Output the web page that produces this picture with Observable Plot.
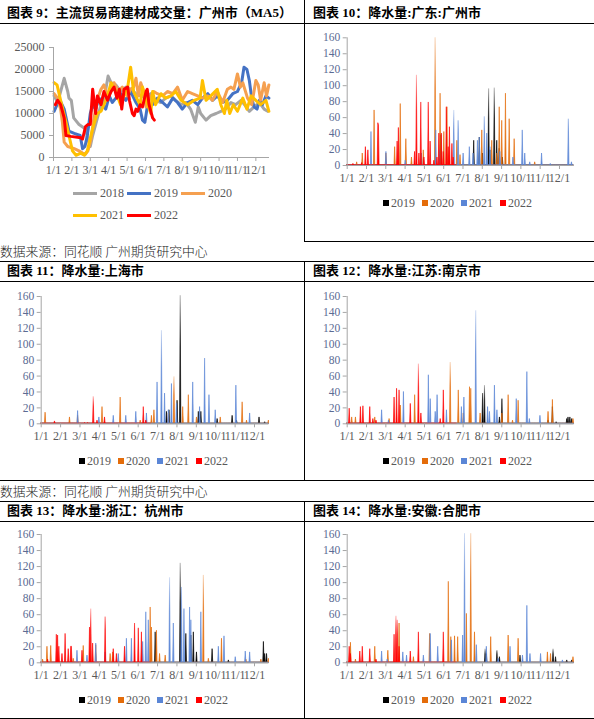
<!DOCTYPE html>
<html><head><meta charset="utf-8">
<script src="https://cdn.jsdelivr.net/npm/d3@7"></script>
<script src="https://cdn.jsdelivr.net/npm/@observablehq/plot@0.6"></script>
<style>
body{margin:0;background:#fff;}
#page{position:relative;width:594px;height:719px;overflow:hidden;background:#fff;}
.hl{position:absolute;height:1.4px;background:#000;}
.vl{position:absolute;width:1.4px;background:#000;}
.title{position:absolute;font-family:"Liberation Serif","Noto Sans CJK SC",serif;font-weight:700;font-size:13px;line-height:14px;white-space:nowrap;color:#000;}
.src{position:absolute;font-family:"Noto Sans CJK SC",sans-serif;font-weight:300;font-size:12.8px;line-height:14px;white-space:nowrap;color:#222;}
.panel{position:absolute;}
.leg{position:absolute;display:flex;align-items:center;font-family:"Liberation Serif",serif;font-size:12px;color:#595959;white-space:nowrap;}
.leg .it{display:flex;align-items:center;}
</style>
</head><body>
<svg width="0" height="0" style="position:absolute"><defs id="grads"></defs></svg>
<div id="page"></div>
<script>
// ---------- shared axis labels ----------
const monthLabels = ["1/1","2/1","3/1","4/1","5/1","6/1","7/1","8/1","9/1","10/1","11/1","12/1"];
const monthTickDays = [0,31,62,93,124,155,186,217,248,279,310,341];
const volTicks = [0,5000,10000,15000,20000,25000];
const rainTicks = [0,20,40,60,80,100,120,140,160];
const volYears = ["2018","2019","2020","2021","2022"];
const rainYears = ["2019","2020","2021","2022"];

// ---------- 图表9: 主流贸易商建材成交量 广州 (MA5) [dayIndex, volume] ----------
const vol2018 = [[1,14000],[7,12500],[18,18000],[24,15000],[26,13500],[30,13000],[34,9000],[43,7500],[54,6500],[58,4000],[62,2500],[66,5000],[74,9000],[80,12000],[85,13000],[92,18500],[97,17000],[105,16500],[113,15000],[122,16000],[130,15500],[139,14500],[147,14000],[156,13500],[164,14500],[172,13000],[181,12500],[189,13500],[198,14000],[206,13000],[215,12000],[223,12500],[231,11000],[239,8000],[244,11500],[248,10000],[257,8500],[265,9500],[274,10000],[282,10500],[290,11000],[299,12500],[307,12000],[316,13000],[322,12000],[330,10500],[338,11500],[347,12500],[355,11000],[361,10500]];
const vol2019 = [[1,10500],[6,12000],[11,13000],[18,11000],[26,6000],[35,5500],[45,5000],[49,2000],[53,2500],[57,5000],[62,10000],[66,12000],[71,11000],[77,13500],[83,12000],[88,11000],[94,14000],[99,12500],[105,13500],[113,14500],[122,13000],[130,15000],[139,12500],[146,11000],[150,8500],[154,8000],[158,11500],[167,12000],[175,13500],[184,12500],[192,11500],[201,13500],[209,12500],[217,11000],[226,12500],[234,13000],[243,12000],[251,13500],[260,14500],[268,13000],[276,14000],[285,12500],[293,13000],[302,14500],[310,15000],[317,17000],[321,20500],[326,20000],[330,17500],[334,13500],[338,11500],[343,11000],[347,13000],[352,12000],[358,14000],[363,13500]];
const vol2020 = [[1,14500],[7,13500],[12,11000],[15,8000],[18,3500],[24,2500],[35,2000],[43,1500],[49,1000],[54,800],[58,1500],[63,4000],[67,8000],[71,11000],[75,13500],[80,15500],[85,16500],[91,14000],[97,15000],[102,17000],[109,15000],[116,16000],[124,14000],[130,15500],[135,16000],[139,18000],[143,14000],[147,17000],[152,15000],[156,11500],[161,13000],[169,15000],[175,14500],[184,14000],[192,15000],[201,14500],[209,16000],[217,13000],[226,15000],[234,14500],[243,14000],[251,13500],[260,14000],[268,13000],[276,15000],[285,12500],[293,15500],[299,16000],[304,15500],[310,19000],[315,16000],[319,17000],[327,13500],[334,12000],[341,17500],[345,16500],[349,13000],[355,17000],[359,14000],[363,16500]];
const vol2021 = [[1,17000],[6,16500],[12,13000],[21,8000],[26,5000],[32,1500],[38,500],[46,1000],[52,500],[57,1500],[63,5000],[69,8000],[74,10000],[80,10500],[85,12000],[91,14000],[97,17000],[105,15000],[113,12000],[120,14500],[125,16000],[130,20500],[135,15000],[142,13000],[146,12000],[150,16000],[156,13000],[164,10000],[167,15000],[172,12000],[181,14500],[189,13500],[198,14000],[206,15000],[215,13000],[226,12000],[237,13000],[247,13500],[251,17500],[257,13000],[265,14000],[276,15500],[282,12000],[288,10000],[292,13000],[297,10000],[303,12000],[310,10500],[319,13500],[326,11000],[333,14000],[341,13000],[349,12000],[358,13000],[363,10500]];
const vol2022 = [[3,12000],[7,13000],[12,12000],[18,9000],[21,5000],[29,4800],[46,4500],[49,4200],[54,7000],[58,7500],[62,7500],[66,15500],[71,10000],[74,14000],[80,12000],[85,15000],[91,13000],[97,15000],[102,16000],[107,13500],[111,15500],[115,11000],[119,15500],[125,16000],[128,13000],[133,10000],[136,9500],[139,11000],[142,10500],[146,12000],[150,11500],[156,15000],[158,15500],[161,12000],[167,9000],[170,8500]];

// ---------- 降水量 [dayIndex, mm] ----------
// 广东:广州市
const gz2019 = [[151,38],[204,31],[213,35],[218,15],[228,96],[230,19],[237,97],[241,31],[245,21],[250,10]];
const gz2020 = [[16,4],[25,15],[44,69],[63,15],[77,23],[86,77],[95,33],[104,10],[123,19],[142,160],[150,90],[156,42],[161,73],[177,31],[182,13],[217,44],[233,31],[241,15],[245,73],[249,56],[255,90],[261,58],[269,33],[302,4]];
const gz2021 = [[39,42],[63,17],[94,6],[120,15],[143,44],[149,19],[172,69],[179,56],[187,15],[197,23],[203,15],[210,31],[213,35],[221,61],[225,40],[230,23],[246,17],[267,10],[282,44],[286,15],[294,4],[313,15],[327,2],[356,58],[361,4]];
const gz2022 = [[10,2],[24,3],[30,23],[34,19],[50,53],[51,50],[81,30],[83,47],[109,17],[112,113],[116,15],[119,79],[124,10],[131,79],[134,30],[140,6],[145,10],[148,40],[152,40],[155,17],[160,73],[163,23],[165,48],[169,27],[171,10]];
// 上海市
const sh2019 = [[201,15],[205,17],[218,29],[223,161],[252,15],[256,15],[282,6],[306,10],[313,4],[349,8],[358,2]];
const sh2020 = [[7,14],[46,8],[59,10],[98,21],[127,33],[159,4],[177,10],[181,17],[204,13],[213,59],[227,21],[236,36],[249,8],[287,8],[322,27],[329,4],[364,4]];
const sh2021 = [[59,16],[93,8],[116,10],[136,10],[152,15],[169,13],[186,52],[193,117],[198,38],[204,17],[209,50],[217,25],[243,52],[254,21],[262,82],[269,36],[279,17],[312,48],[334,13]];
const sh2022 = [[22,3],[70,1],[75,1],[84,34],[90,4],[102,8],[164,21],[168,4]];
// 江苏:南京市
const nj2019 = [[218,38],[221,48],[245,8],[249,31],[323,4],[330,21],[336,2],[353,6],[355,8],[358,8],[361,6]];
const nj2020 = [[8,8],[14,8],[45,8],[68,6],[86,23],[109,36],[166,77],[179,42],[187,13],[197,46],[199,44],[214,13],[249,13],[259,36],[266,4],[275,29],[323,15],[330,30],[363,6]];
const nj2021 = [[56,17],[67,4],[91,40],[131,61],[134,31],[142,15],[145,36],[160,17],[184,21],[188,33],[207,142],[226,21],[229,15],[237,48],[241,17],[272,31],[289,65],[293,6],[310,10]];
const nj2022 = [[4,19],[22,21],[26,22],[37,21],[42,6],[47,4],[76,33],[80,44],[84,42],[102,25],[115,75],[119,13],[150,6],[155,42]];
// 浙江:杭州市
const hz2019 = [[183,38],[223,124],[232,36],[240,34],[244,38],[249,13],[274,17],[300,3],[356,26],[358,11],[361,11]];
const hz2020 = [[3,4],[10,20],[16,21],[52,5],[68,21],[88,22],[111,11],[115,13],[175,69],[177,44],[185,40],[190,11],[199,9],[260,109],[268,5],[289,30],[328,4],[352,4],[364,5]];
const hz2021 = [[58,15],[74,9],[88,24],[103,13],[124,11],[137,30],[145,30],[163,26],[168,63],[172,53],[206,106],[212,49],[225,94],[229,67],[238,69],[240,53],[256,63],[284,20],[293,33],[311,7],[327,14],[334,13]];
const hz2022 = [[11,4],[25,35],[27,34],[29,20],[34,11],[39,36],[44,17],[48,20],[49,20],[66,15],[78,44],[80,67],[83,24],[103,57],[116,17],[121,11],[134,20],[150,49],[156,43],[161,38]];
// 安徽:合肥市
const hf2019 = [[222,17],[224,11],[241,15],[245,7],[278,9],[331,17],[335,7],[353,3],[361,3]];
const hf2020 = [[6,25],[14,4],[45,20],[66,15],[84,49],[107,7],[133,36],[163,101],[167,32],[173,33],[178,32],[192,61],[199,161],[205,38],[231,32],[259,34],[275,30],[322,13],[327,11],[363,7]];
const hf2021 = [[56,14],[65,4],[90,13],[96,9],[123,9],[134,36],[146,20],[168,28],[186,34],[189,161],[208,22],[224,20],[243,5],[262,20],[282,9],[289,71],[294,11],[311,11],[346,3]];
const hf2022 = [[4,20],[6,11],[21,14],[25,20],[37,17],[47,4],[76,35],[79,58],[81,53],[84,20],[102,14],[115,38],[155,38]];

// ---------- styling ----------
const volColors = {"2018":"#A5A5A5","2019":"#4472C4","2020":"#F5A050","2021":"#FFC000","2022":"#FF0000"};
const rainColors = {"2019":"#000000","2020":"#E46C0A","2021":"#5B86D6","2022":"#FF0000"};

const page = document.getElementById("page");
function add(cls, css, text){
  const el = document.createElement("div");
  el.className = cls;
  Object.assign(el.style, css);
  if (text != null) el.textContent = text;
  page.appendChild(el);
  return el;
}
// gradients
const defs = document.getElementById("grads");
for (const y of rainYears) {
  const c = rainColors[y];
  defs.insertAdjacentHTML("beforeend",
    `<linearGradient id="g${y}" x1="0" y1="0" x2="0" y2="1">
      <stop offset="0" stop-color="${c}" stop-opacity="0.22"/>
      <stop offset="0.4" stop-color="${c}" stop-opacity="0.85"/>
      <stop offset="1" stop-color="${c}" stop-opacity="1"/>
    </linearGradient>`);
}

// frame lines
[[0,23,594],[304,241,290],[0,261,594],[0,281,594],[0,480,594],[0,501,594],[0,521,594],[0,717.5,594]]
  .forEach(([x,y,w])=>add("hl",{left:x+"px",top:y+"px",width:w+"px"}));
[[304,0,241],[304,261,220],[304,501,218]]
  .forEach(([x,y,h])=>add("vl",{left:x+"px",top:y+"px",height:h+"px"}));

// titles & sources
add("title",{left:"7px",top:"6px"},"图表 9：主流贸易商建材成交量：广州市（MA5）");
add("title",{left:"313px",top:"6px"},"图表 10：降水量:广东:广州市");
add("src",{left:"0px",top:"244px"},"数据来源：同花顺  广州期货研究中心");
add("title",{left:"7px",top:"264px"},"图表 11：降水量:上海市");
add("title",{left:"313px",top:"264px"},"图表 12：降水量:江苏:南京市");
add("src",{left:"0px",top:"484px"},"数据来源：同花顺  广州期货研究中心");
add("title",{left:"7px",top:"504px"},"图表 13：降水量:浙江：杭州市");
add("title",{left:"313px",top:"504px"},"图表 14：降水量:安徽:合肥市");

const monthMap = new Map(monthTickDays.map((d,i)=>[d, monthLabels[i]]));

function xAxis(){
  return Plot.axisX({ticks: monthTickDays, tickFormat: d => monthMap.get(d), tickSize: 4, tickPadding: 4, label: null,
    stroke: "#A6A6A6", fill: "#595959", fontSize: 12});
}

// ---------- panel 1: line chart ----------
{
  const series = {"2018":vol2018,"2019":vol2019,"2020":vol2020,"2021":vol2021,"2022":vol2022};
  const chart = Plot.plot({
    width: 300, height: 160,
    marginLeft: 53, marginRight: 31, marginTop: 22, marginBottom: 28,
    style: {fontFamily: "Liberation Serif, serif", fontSize: "12px", background: "transparent", overflow: "visible"},
    x: {domain: [0, 364], label: null},
    y: {domain: [0, 25000], label: null},
    marks: [
      ...volYears.map(y => Plot.line(series[y], {x: d => d[0], y: d => d[1], stroke: volColors[y], strokeWidth: 3, curve: "linear"})),
      Plot.ruleY([0], {stroke: "#A6A6A6"}),
      Plot.ruleX([0], {stroke: "#A6A6A6"}),
      Plot.axisY({ticks: volTicks, tickFormat: d => String(d), tickSize: 4, tickPadding: 5, label: null, stroke: "#A6A6A6", fill: "#595959", fontSize: 12}),
      xAxis()
    ]
  });
  const p = add("panel",{left:"0px",top:"25px"});
  p.appendChild(chart);
  const rows = [["2018","2019","2020"],["2021","2022"]];
  rows.forEach((row, ri) => {
    const lg = add("leg",{left:"73px",top:(186 + ri*22)+"px",height:"14px"});
    row.forEach(y => {
      const it = document.createElement("div"); it.className = "it"; it.style.width = "54px";
      it.innerHTML = `<span style="display:inline-block;width:24px;height:3px;background:${volColors[y]};margin-right:3px"></span><span>${y}</span>`;
      lg.appendChild(it);
    });
  });
}

// ---------- precipitation panels ----------
function toDaily(pts, last){
  const m = new Map(pts);
  return d3.range(0, last + 1).map(d => ({d, v: m.get(d) ?? 0}));
}
function rainPanel(left, top, width, m, sets, legendTop, legendLeft){
  const marks = rainYears.map((y, i) => {
    const pts = sets[i];
    const last = y === "2022" ? 176 : 364;
    return Plot.areaY(toDaily(pts, last), {x: "d", y: "v", fill: `url(#g${y})`, stroke: `url(#g${y})`, strokeWidth: 0.7, curve: "linear"});
  });
  const chart = Plot.plot({
    width, height: 165,
    marginLeft: m[0], marginRight: m[1], marginTop: m[2], marginBottom: m[3],
    style: {fontFamily: "Liberation Serif, serif", fontSize: "12px", background: "transparent", overflow: "visible"},
    x: {domain: [0, 364], label: null},
    y: {domain: [0, 160], label: null},
    marks: [
      ...marks,
      Plot.ruleY([0], {stroke: "#A6A6A6", strokeWidth: 1.2}),
      Plot.ruleX([0], {stroke: "#A6A6A6"}),
      Plot.axisY({ticks: rainTicks, tickSize: 4, tickPadding: 3, label: null, stroke: "#A6A6A6", fill: "#5B6B93", fontSize: 11.5}),
      xAxis()
    ]
  });
  const p = add("panel",{left:left+"px",top:top+"px"});
  p.appendChild(chart);
  const lg = add("leg",{left:legendLeft+"px",top:legendTop+"px",height:"14px"});
  rainYears.forEach(y => {
    const it = document.createElement("div"); it.className = "it"; it.style.width = "39px";
    it.innerHTML = `<span style="display:inline-block;width:6px;height:6px;background:${rainColors[y]};margin-right:2px"></span><span>${y}</span>`;
    lg.appendChild(it);
  });
}
rainPanel(304, 25, 290, [42.7, 20.7, 12.3, 25], [gz2019, gz2020, gz2021, gz2022], 196, 383);
rainPanel(0, 282, 304, [40.7, 35.6, 14, 23.7], [sh2019, sh2020, sh2021, sh2022], 454, 79);
rainPanel(304, 282, 290, [42.7, 20.4, 14, 23.7], [nj2019, nj2020, nj2021, nj2022], 454, 383);
rainPanel(0, 522, 304, [40.7, 35.6, 12, 24.7], [hz2019, hz2020, hz2021, hz2022], 693, 79);
rainPanel(304, 522, 290, [42.7, 20.4, 12, 24.7], [hf2019, hf2020, hf2021, hf2022], 693, 383);
</script>
</body></html>
